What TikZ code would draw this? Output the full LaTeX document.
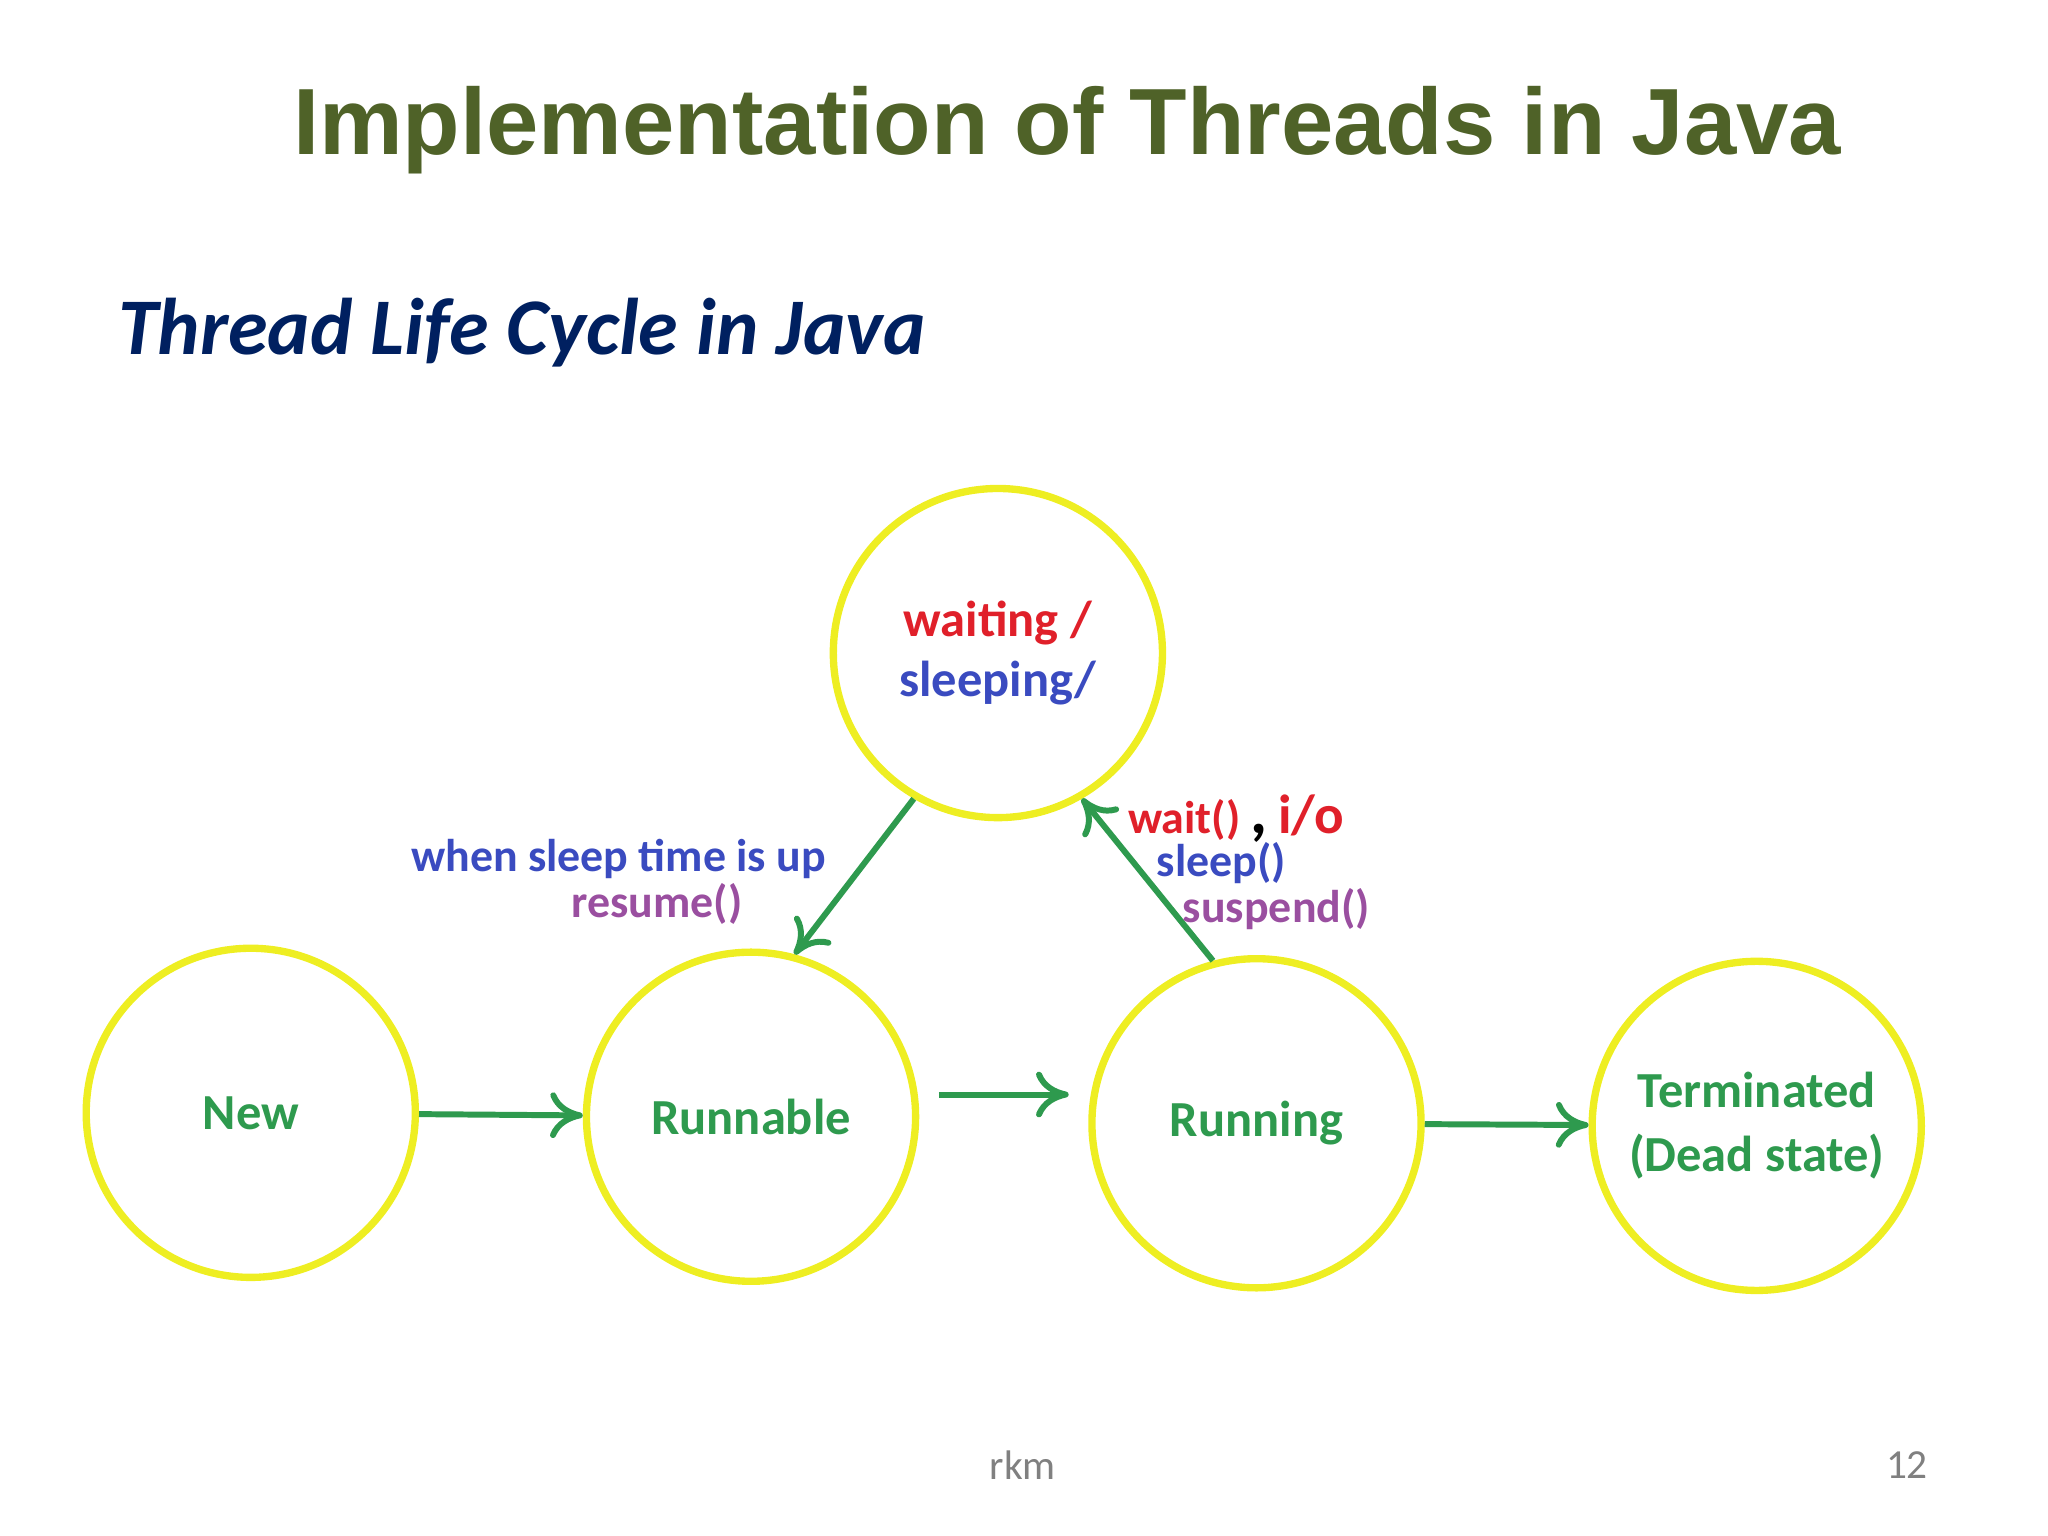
\documentclass[tikz,border=0pt]{standalone}
\usepackage{fontspec}
\setmainfont{Carlito}
\newfontfamily\titlefont{Liberation Sans}
\usetikzlibrary{arrows.meta, positioning}
\definecolor{olive}{HTML}{4F6228}
\definecolor{navy}{HTML}{002060}
\definecolor{stategreen}{HTML}{2E9A4E}
\definecolor{ringyellow}{HTML}{EEEE22}
\definecolor{lblblue}{HTML}{3A4BC0}
\definecolor{lblpurple}{HTML}{9A4FA0}
\definecolor{lblred}{HTML}{E0202A}
\tikzset{
  state/.style = {circle, draw=ringyellow, line width=1.6pt, minimum size=2.52cm,
    align=center, text=stategreen, font=\fontsize{11}{14}\selectfont\bfseries},
  trans/.style = {-{To[length=2.5mm, width=3.5mm]}, draw=stategreen, line width=1.3pt},
  lbl/.style = {font=\fontsize{10}{12}\selectfont\bfseries, inner sep=0pt}
}

\begin{document}
\begin{tikzpicture}

  \useasboundingbox (0,0) rectangle (15.68,-11.76);

  % Headings
  \node[font=\titlefont\fontsize{20.5}{24}\selectfont\bfseries, text=olive] (title) at (8.17,-1.0) {Implementation of Threads in Java};
  \node[anchor=west, font=\fontsize{17.5}{21}\selectfont\bfseries\itshape, text=navy] (subtitle) at (0.78,-2.55) {Thread Life Cycle in Java};

  % States
  \node[state] (new) at (1.92,-8.52) {New};
  \node[state] (runnable) at (5.75,-8.55) {Runnable};
  \node[state] (running) at (9.62,-8.6) {Running};
  \node[state] (dead) at (13.45,-8.62) {Terminated\\(Dead state)};
  \node[state, font=\fontsize{11}{13}\selectfont\bfseries] (waiting) at (7.64,-5.0) {\textcolor{lblred}{waiting /}\\\textcolor{lblblue}{sleeping/}};

  % Transitions
  \coordinate (midgap) at (7.68,-8.38);
  \draw[trans] (new) -- (runnable);
  \draw[trans] ([xshift=1.5mm]runnable.east |- midgap) -- ([xshift=-1.5mm]running.west |- midgap);
  \draw[trans] (running) -- (dead);
  \draw[trans] (waiting.240) -- (runnable.75);
  \draw[trans] (running.105) -- (waiting.300);

  % Labels
  \node[lbl, anchor=east, text=lblblue] (uplbl) at (6.33,-6.58) {when sleep time is up};
  \node[lbl, text=lblpurple] (resumelbl) at (5.03,-6.92) {resume()};
  \node[lbl, anchor=west] (waitlbl) at (8.63,-6.27) {\textcolor{lblred}{wait()} \textcolor{black}{\Large,} \textcolor{lblred}{\large i/o}};
  \node[lbl, anchor=west, text=lblblue] (sleeplbl) at (8.85,-6.61) {sleep()};
  \node[lbl, anchor=west, text=lblpurple] (suspendlbl) at (9.05,-6.96) {suspend()};

  % Footer
  \node[text=gray, font=\small] (author) at (7.83,-11.22) {rkm};
  \node[text=gray, font=\small] (page) at (14.6,-11.22) {12};

\end{tikzpicture}
\end{document}
